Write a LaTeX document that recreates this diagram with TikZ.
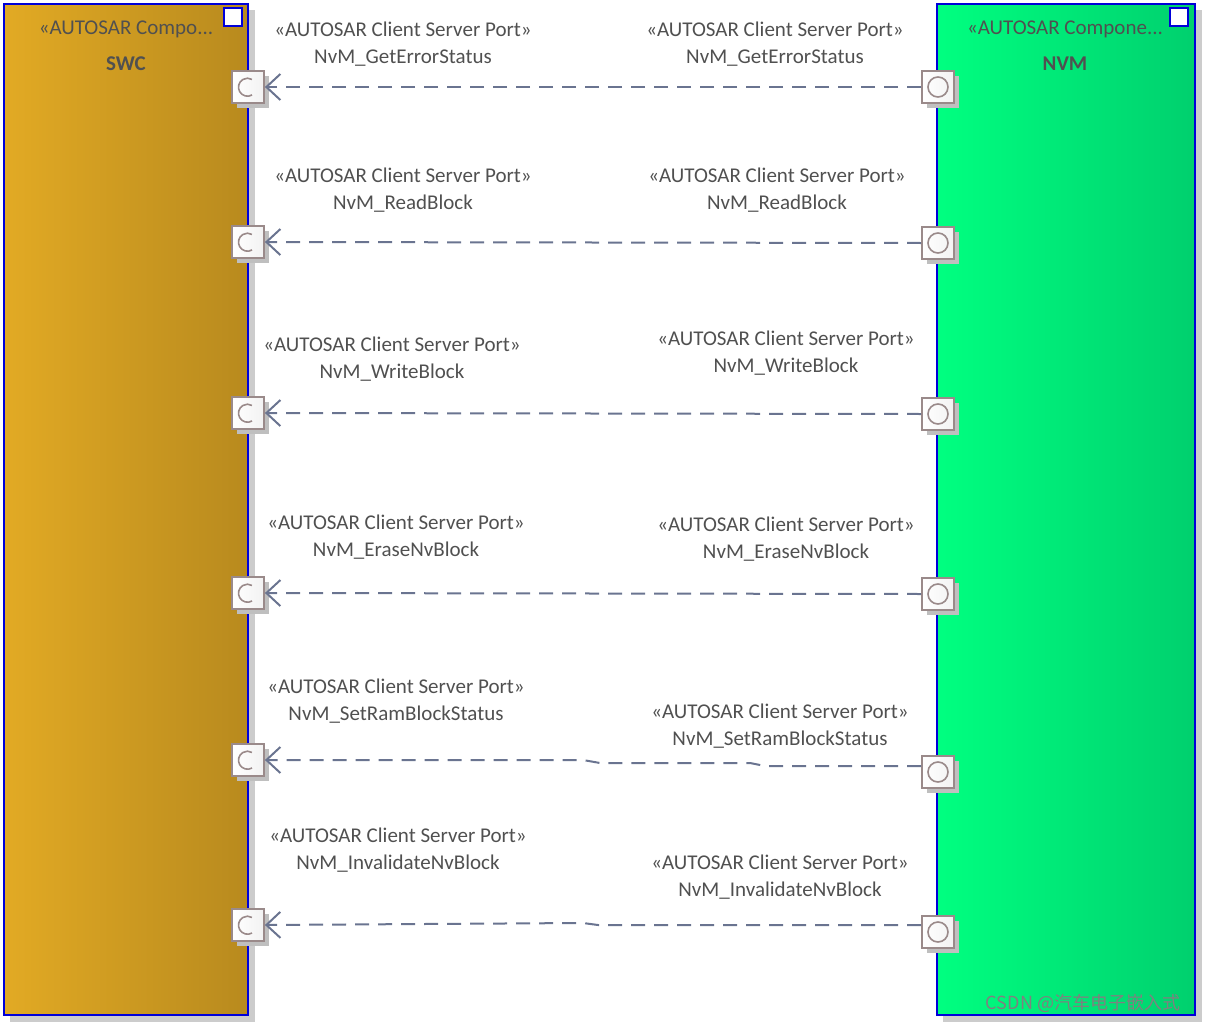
\documentclass[tikz,border=0pt]{standalone}
\usepackage{fontspec}
\setmainfont{Carlito}
\newfontfamily\cjk{Noto Sans CJK SC}
\usetikzlibrary{arrows.meta,shadows}
\definecolor{txt}{HTML}{505050}
\definecolor{ln}{HTML}{6A7490}
\definecolor{pb}{HTML}{9A8A8A}
\tikzset{
 lbl/.style={text=txt,font=\fontsize{21}{24}\selectfont,inner sep=0},
 port/.style={draw=pb,line width=1.8pt,minimum size=32pt,inner sep=0,fill=white,
   left color=white,right color=gray!10,drop shadow={shadow xshift=5pt,shadow yshift=-5pt,fill=gray!50,opacity=1}},
 conn/.style={draw=ln,line width=2pt,dash pattern=on 14pt off 9pt,-{Straight Barb[length=14pt,width=26pt,line width=2pt]}},
 comp/.style={draw=blue!85!black,line width=2pt},
 cornerbox/.style={draw=blue!85!black,fill=white,line width=2pt,minimum size=18pt,inner sep=0}
}
\begin{document}
\begin{tikzpicture}[x=1pt,y=-1pt]
\useasboundingbox (0,0) rectangle (1205,1025);
\fill[gray!40] (10,10) rectangle (255,1022);
\fill[gray!40] (943,10) rectangle (1202,1022);
\shade[left color={rgb,255:red,226;green,170;blue,36},right color={rgb,255:red,184;green,138;blue,30}] (4,4) rectangle (248,1015);
\draw[comp] (4,4) rectangle (248,1015);
\shade[left color={rgb,255:red,0;green,255;blue,128},right color={rgb,255:red,0;green,208;blue,110}] (937,4) rectangle (1195,1015);
\draw[comp] (937,4) rectangle (1195,1015);
\node[cornerbox] (m1) at (233,17) {};
\node[cornerbox] (m2) at (1179,17) {};
\node[lbl] (h1) at (126,29) {«AUTOSAR Compo...};
\node[lbl,font=\fontsize{21}{24}\selectfont\bfseries] (n1) at (126,64) {SWC};
\node[lbl] (h2) at (1065,29) {«AUTOSAR Compone...};
\node[lbl,font=\fontsize{21}{24}\selectfont\bfseries] (n2) at (1065,64) {NVM};
\foreach \i/\yl/\yr in {1/87/87,2/242/243,3/413/414,4/593/594,5/760/772,6/925/932}{
  \node[port] (L\i) at (248,\yl) {};
  \draw[pb,line width=1.6pt] ([xshift=4pt,yshift=-8pt]L\i.center) arc[start angle=-60,end angle=-300,radius=9pt];
  \node[port] (R\i) at (938,\yr) {};
  \draw[pb,line width=1.6pt] (R\i.center) circle[radius=10pt];
}
\draw[conn] (R1.west) -- (L1.east);
\draw[conn] (R2.west) -- (L2.east);
\draw[conn] (R3.west) -- (L3.east);
\draw[conn] (R4.west) -- (L4.east);
\coordinate (b5) at (765,766); \coordinate (b5b) at (750,763);
\coordinate (c5) at (600,763); \coordinate (d5) at (583,760);
\draw[conn] ([yshift=6pt]R5.west) -- (b5) -- (b5b) -- (c5) -- (d5) -- (L5.east);
\coordinate (c6) at (598,925); \coordinate (d6) at (583,923);
\draw[conn] ([yshift=7pt]R6.west) -- (c6) -- (d6) -- (L6.east);
\foreach \n/\x/\y/\t in {a1/403/29/NvM\_GetErrorStatus,a2/403/175/NvM\_ReadBlock,a3/392/344/NvM\_WriteBlock,
  a4/396/522/NvM\_EraseNvBlock,a5/396/686/NvM\_SetRamBlockStatus,a6/398/835/NvM\_InvalidateNvBlock,
  b1/775/29/NvM\_GetErrorStatus,b2/777/175/NvM\_ReadBlock,b3/786/338/NvM\_WriteBlock,
  b4/786/524/NvM\_EraseNvBlock,b5/780/711/NvM\_SetRamBlockStatus,b6/780/862/NvM\_InvalidateNvBlock}{
  \node[lbl] (\n s) at (\x,\y) {«AUTOSAR Client Server Port»};
  \node[lbl] (\n n) at (\x,\y+29) {\t};
}
\node[lbl,font=\cjk\fontsize{18}{20}\selectfont,text=gray] (wm) at (1083,1003) {CSDN @汽车电子嵌入式};
\end{tikzpicture}
\end{document}
